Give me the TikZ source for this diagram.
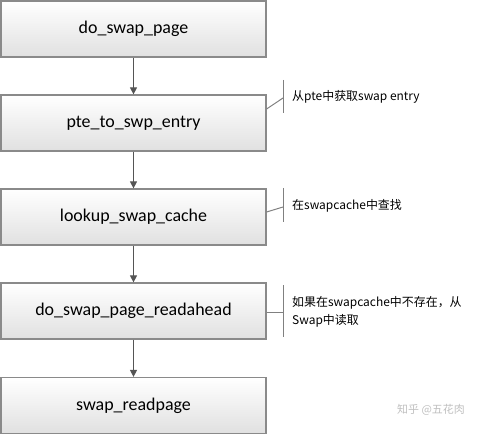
\documentclass[tikz,border=0pt]{standalone}
\usepackage{fontspec}
\setmainfont{Carlito}
\newfontfamily\cjk{Noto Sans CJK SC}
\usetikzlibrary{arrows.meta}
\definecolor{boxline}{HTML}{8A8A8A}
\definecolor{arrowc}{HTML}{555555}
\definecolor{notec}{HTML}{808080}
\begin{document}
\begin{tikzpicture}[x=1bp,y=-1bp,
  fn/.style={draw=boxline,line width=1.2bp,minimum width=265bp,minimum height=56bp,
    top color=white,bottom color=black!12,inner sep=0pt,
    font=\fontsize{18}{20}\selectfont,text=black},
  flow/.style={draw=arrowc,line width=1bp,-{Triangle[length=7bp,width=7bp]}},
  brk/.style={draw=notec,line width=1bp},
  note/.style={font=\cjk\fontsize{12}{18}\selectfont,anchor=west,inner sep=0pt,align=left,text=black}]
\useasboundingbox (0,0) rectangle (477,436);
\node[fn] (a) at (133.5,29) {do\_swap\_page};
\node[fn] (b) at (133.5,123) {pte\_to\_swp\_entry};
\node[fn] (c) at (133.5,217) {lookup\_swap\_cache};
\node[fn] (d) at (133.5,311) {do\_swap\_page\_readahead};
\node[fn] (e) at (133.5,405.5) {swap\_readpage};
\draw[flow] (a) -- (b);
\draw[flow] (b) -- (c);
\draw[flow] (c) -- (d);
\draw[flow] (d) -- (e);
% annotations
\coordinate (b1) at (283,80);
\coordinate (b2) at (283,113);
\coordinate (bm) at (283,98);
\draw[brk] (b1) -- (b2);
\draw[brk] (b.east |- 0,109) -- (bm);
\node[note] (nb) at (292,97) {从pte中获取swap entry};
\coordinate (c1) at (283,188);
\coordinate (c2) at (283,222);
\coordinate (cm) at (283,207);
\draw[brk] (c1) -- (c2);
\draw[brk] (c.east |- 0,212) -- (cm);
\node[note] (nc) at (292,206) {在swapcache中查找};
\coordinate (d1) at (283,285);
\coordinate (d2) at (283,337);
\coordinate (dm) at (283,312);
\draw[brk] (d1) -- (d2);
\draw[brk] (d.east |- 0,312) -- (dm);
\node[note] (nd) at (292,312) {如果在swapcache中不存在，从\\Swap中读取};
\node[font=\cjk\fontsize{11}{13}\selectfont,text=black!25,anchor=west,inner sep=0pt] (wm) at (397,410) {知乎 @五花肉};
\end{tikzpicture}
\end{document}
